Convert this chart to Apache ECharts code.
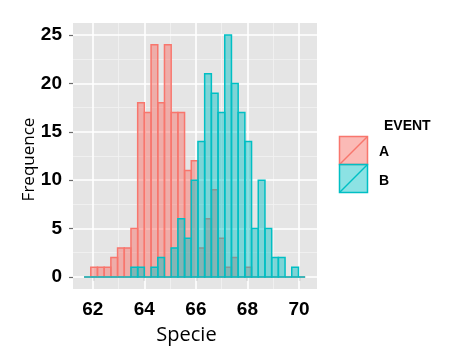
<!DOCTYPE html>
<html><head><meta charset="utf-8">
<script src="https://cdn.jsdelivr.net/npm/echarts@6/dist/echarts.min.js"></script>
<style>html,body{margin:0;padding:0;background:#fff}#c{width:474px;height:361px}</style>
</head><body><div id="c"></div>
<script>
// Histogram bin edges (Specie)
const binEdges = [61.66, 61.92, 62.18, 62.44, 62.70, 62.96, 63.22, 63.48, 63.74, 64.00,
  64.26, 64.52, 64.78, 65.04, 65.30, 65.56, 65.82, 66.08, 66.34, 66.60, 66.86, 67.12,
  67.38, 67.64, 67.90, 68.16, 68.42, 68.68, 68.94, 69.20, 69.46, 69.72, 69.98, 70.24];
// Frequence per bin, EVENT A
const countsA = [0, 1, 1, 1, 2, 3, 3, 5, 18, 17, 24, 18, 24, 17, 17, 11, 12, 3, 6, 9, 4, 1, 2, 0, 1, 0, 0, 0, 0, 0, 0, 0, 0];
// Frequence per bin, EVENT B
const countsB = [0, 0, 0, 0, 0, 0, 0, 1, 1, 0, 1, 2, 0, 3, 6, 4, 10, 14, 21, 19, 17, 25, 20, 17, 14, 5, 10, 5, 2, 2, 0, 1, 0];
const seriesNames = ['A', 'B'];
const xTicks = [62, 64, 66, 68, 70];
const xMinor = [63, 65, 67, 69];
const yTicks = [0, 5, 10, 15, 20, 25];
const yMinor = [2.5, 7.5, 12.5, 17.5, 22.5];

const colA = '#F8766D', fillA = 'rgba(248,118,109,0.5)';
const colB = '#00BFC4', fillB = 'rgba(0,191,196,0.45)';

function toData(counts) { return counts.map((c, i) => [binEdges[i], binEdges[i + 1], c]); }
function histSeries(name, counts, stroke, fill, z) {
  return {
    type: 'custom', name: name, z: z, silent: true,
    data: toData(counts),
    encode: { x: [0, 1], y: 2 },
    renderItem: function (params, api) {
      const p0 = api.coord([api.value(0), api.value(2)]);
      const p1 = api.coord([api.value(1), 0]);
      return {
        type: 'rect',
        shape: { x: p0[0], y: p0[1], width: p1[0] - p0[0], height: p1[1] - p0[1] },
        style: { fill: fill, stroke: stroke, lineWidth: 1.5 }
      };
    }
  };
}
function gridSeries(values, color, width, z) {
  return { type: 'line', data: [], z: z, silent: true,
    markLine: { z: z, silent: true, animation: false, symbol: ['none', 'none'], label: { show: false },
      lineStyle: { color: color, width: width, type: 'solid' },
      data: values } };
}
const tickFont = { fontFamily: 'Liberation Sans', fontWeight: 'bold', fontSize: 19, color: '#000' };

const chart = echarts.init(document.getElementById('c'), null, { renderer: 'canvas' });
chart.setOption({
  animation: false,
  backgroundColor: '#fff',
  grid: { left: 73, top: 23, width: 244, height: 266, show: true, backgroundColor: '#E5E5E5', borderWidth: 0 },
  xAxis: {
    type: 'value', min: 61.23, max: 70.70,
    axisLine: { show: false }, splitLine: { show: false },
    axisTick: { show: true, customValues: xTicks, length: 4, lineStyle: { color: '#6b6b6b', width: 1.2 } },
    axisLabel: Object.assign({ customValues: xTicks, margin: 11 }, tickFont),
    name: 'Specie', nameLocation: 'middle', nameGap: 36, nameMoveOverlap: false,
    nameTextStyle: { fontFamily: 'Open Sans', fontSize: 20, color: '#000', padding: [0, 17, 0, 0] }
  },
  yAxis: {
    type: 'value', min: -1.25, max: 26.25,
    axisLine: { show: false }, splitLine: { show: false },
    axisTick: { show: true, customValues: yTicks, length: 4, lineStyle: { color: '#6b6b6b', width: 1.2 } },
    axisLabel: Object.assign({ customValues: yTicks, margin: 11 }, tickFont),
    name: 'Frequence', nameLocation: 'middle', nameGap: 35, nameMoveOverlap: false,
    nameTextStyle: { fontFamily: 'Open Sans', fontSize: 17, color: '#000', padding: [0, 7, 0, 0] }
  },
  series: [
    gridSeries(xMinor.map(v => ({ xAxis: v })).concat(yMinor.map(v => ({ yAxis: v }))), '#F2F2F2', 0.8, 0.5),
    gridSeries(xTicks.map(v => ({ xAxis: v })).concat(yTicks.map(v => ({ yAxis: v }))), '#FFFFFF', 1.6, 0.6),
    histSeries(seriesNames[0], countsA, colA, fillA, 2),
    histSeries(seriesNames[1], countsB, colB, fillB, 3)
  ],
  graphic: [
    { type: 'text', left: 384, top: 119, style: { text: 'EVENT', fontFamily: 'Liberation Sans', fontWeight: 'bold', fontSize: 14, fill: '#000' } },
    { type: 'rect', shape: { x: 339.5, y: 136.5, width: 28, height: 28 }, style: { fill: fillA, stroke: colA, lineWidth: 1.5 } },
    { type: 'line', shape: { x1: 339.5, y1: 164.5, x2: 367.5, y2: 136.5 }, style: { stroke: colA, lineWidth: 1.5 } },
    { type: 'rect', shape: { x: 339.5, y: 164.5, width: 28, height: 28 }, style: { fill: fillB, stroke: colB, lineWidth: 1.5 } },
    { type: 'line', shape: { x1: 339.5, y1: 192.5, x2: 367.5, y2: 164.5 }, style: { stroke: colB, lineWidth: 1.5 } },
    { type: 'text', left: 379, top: 145, style: { text: seriesNames[0], fontFamily: 'Liberation Sans', fontWeight: 'bold', fontSize: 14, fill: '#000' } },
    { type: 'text', left: 379, top: 174, style: { text: seriesNames[1], fontFamily: 'Liberation Sans', fontWeight: 'bold', fontSize: 14, fill: '#000' } }
  ]
});
</script></body></html>
